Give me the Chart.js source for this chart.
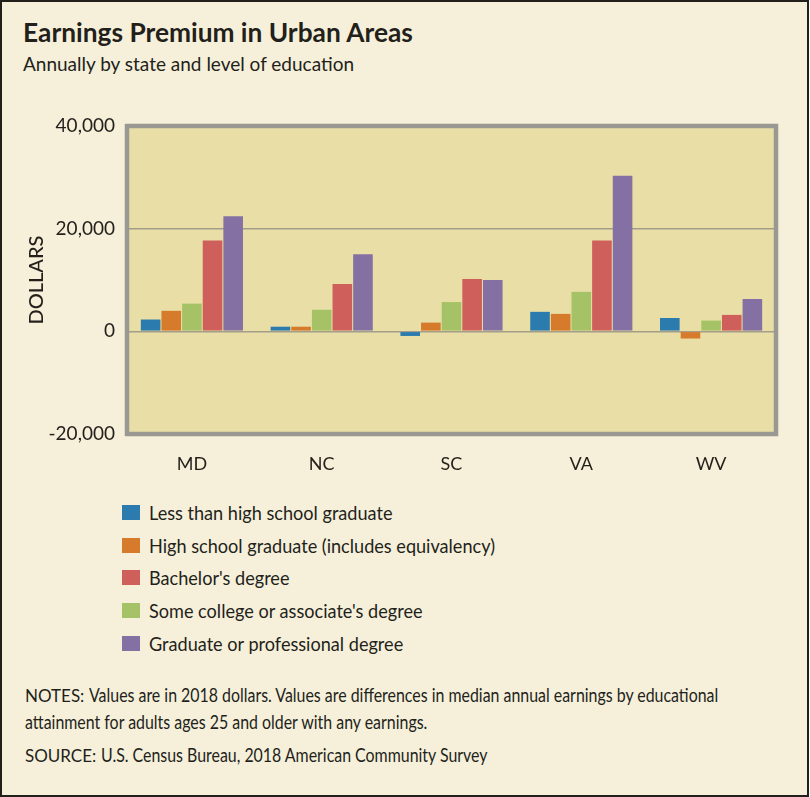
<!DOCTYPE html>
<html>
<head>
<meta charset="utf-8">
<script src="https://cdn.jsdelivr.net/npm/chart.js@4.4.1/dist/chart.umd.min.js"></script>
<style>
  html, body { margin: 0; padding: 0; background: #ffffff; }
  #card {
    position: absolute; left: 0; top: 0;
    width: 805px; height: 793px;
    background: #f6f0da;
    border: 2px solid #231f1a;
    font-family: "Lato", "Open Sans", sans-serif;
    color: #231f1a;
  }
  #title { position: absolute; left: 21px; top: 14px; font-size: 26.3px; font-weight: bold; white-space: nowrap; }
  #subtitle { position: absolute; left: 21px; top: 50px; font-size: 19px; white-space: nowrap; }
  #chartBox { position: absolute; left: -2px; top: 98px; width: 810px; height: 380px; }
  #legend { position: absolute; left: 120px; top: 499px; }
  .item { position: relative; height: 32.7px; font-size: 19px; white-space: nowrap; }
  .item .sw { position: absolute; left: 0; top: 4px; width: 18px; height: 15px; }
  .item .lb { position: absolute; left: 27px; top: 0; transform: scaleX(0.953); transform-origin: left center; }
  #notes { position: absolute; left: 23px; top: 680px; font-size: 17px; line-height: 26px; white-space: nowrap; }
  #source { position: absolute; left: 23px; top: 742px; font-size: 17px; white-space: nowrap; }
  .narrow { display: inline-block; font-size: 18.5px; transform: scaleX(0.86); transform-origin: left center; }
</style>
</head>
<body>
<div id="card">
  <div id="title">Earnings Premium in Urban Areas</div>
  <div id="subtitle">Annually by state and level of education</div>
  <div id="chartBox"><canvas id="myChart" width="810" height="380"></canvas></div>
  <div id="legend"></div>
  <div id="notes"><span>NOTES:</span> <span class="narrow">Values are in 2018 dollars. Values are differences in median annual earnings by educational</span><br><span class="narrow">attainment for adults ages 25 and older with any earnings.</span></div>
  <div id="source"><span>SOURCE:</span> <span class="narrow">U.S. Census Bureau, 2018 American Community Survey</span></div>
</div>
<script>
// states on the x axis
const states = ['MD', 'NC', 'SC', 'VA', 'WV'];

// series values, dollars
const lessThanHS = [2300, 900, -900, 3800, 2600];
const highSchool = [4000, 900, 1700, 3400, -1400];
const someCollege = [5400, 4200, 5700, 7700, 2100];
const bachelors = [17700, 9200, 10200, 17700, 3200];
const graduate = [22400, 15000, 10000, 30300, 6300];

const seriesNames = ['Less than high school graduate', 'High school graduate (includes equivalency)',
  'Some college or associate\'s degree', 'Bachelor\'s degree', 'Graduate or professional degree'];
const seriesColors = ['#2c7bae', '#d57b2b', '#a6c266', '#cf5f5b', '#8570a4'];
const legendOrder = [0, 1, 3, 2, 4];

const yTicks = [-20000, 0, 20000, 40000];

const allValues = [lessThanHS, highSchool, someCollege, bachelors, graduate];

// legend (order differs from bar order)
const legend = document.getElementById('legend');
legendOrder.forEach(i => {
  const d = document.createElement('div');
  d.className = 'item';
  d.innerHTML = '<span class="sw" style="background:' + seriesColors[i] + '"></span><span class="lb">' + seriesNames[i] + '</span>';
  legend.appendChild(d);
});

// plot panel background + grey frame
const panel = {
  id: 'panel',
  beforeDraw(chart) {
    const a = chart.chartArea, ctx = chart.ctx;
    ctx.save();
    ctx.fillStyle = '#e9dfa6';
    ctx.fillRect(a.left, a.top, a.right - a.left, a.bottom - a.top);
    ctx.restore();
  },
  afterDraw(chart) {
    const a = chart.chartArea, ctx = chart.ctx;
    ctx.save();
    ctx.strokeStyle = '#999892';
    ctx.lineWidth = 4.5;
    ctx.strokeRect(a.left, a.top, a.right - a.left, a.bottom - a.top);
    ctx.restore();
  }
};

const ctx = document.getElementById('myChart').getContext('2d');
const myChart = new Chart(ctx, {
  type: 'bar',
  data: {
    labels: states,
    datasets: allValues.map((vals, i) => ({
      label: seriesNames[i],
      data: vals,
      backgroundColor: seriesColors[i],
      borderWidth: 0,
      barPercentage: 0.95,
      categoryPercentage: 0.795
    }))
  },
  options: {
    responsive: false,
    animation: false,
    layout: { padding: { left: 0, right: 34, top: 26, bottom: 0 } },
    plugins: { legend: { display: false }, tooltip: { enabled: false } },
    scales: {
      x: {
        grid: { display: false },
        border: { display: false },
        ticks: { color: '#231f1a', font: { family: 'Lato', size: 18 }, padding: 11 },
        afterFit(scale) { scale.height = 46; }
      },
      y: {
        min: -20000, max: 40000,
        afterBuildTicks(scale) { scale.ticks = yTicks.map(v => ({ value: v })); },
        grid: {
          drawTicks: false,
          lineWidth: 1.5,
          color: c => (c.tick && (c.tick.value === 0 || c.tick.value === 20000)) ? '#a29e8a' : 'rgba(0,0,0,0)'
        },
        border: { display: false },
        ticks: {
          color: '#231f1a', font: { family: 'Lato', size: 19 }, padding: 12,
          callback: v => v.toLocaleString('en-US')
        },
        title: { display: true, text: 'DOLLARS', color: '#231f1a', font: { family: 'Lato', size: 20, weight: '500' }, padding: { top: 25 } },
        afterFit(scale) { scale.width = 127; }
      }
    }
  },
  plugins: [panel]
});
</script>
</body>
</html>
